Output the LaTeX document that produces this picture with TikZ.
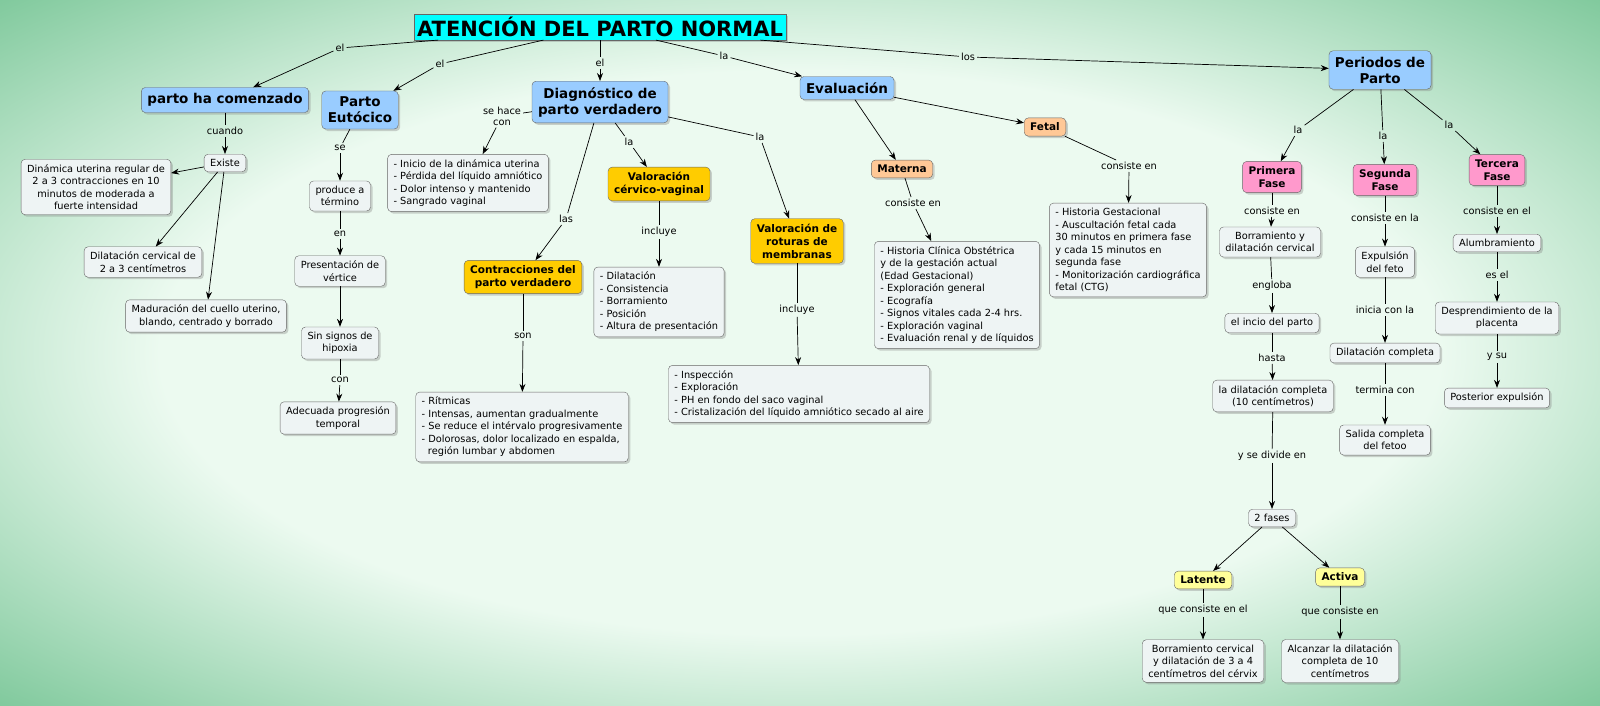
\documentclass[tikz,border=0pt]{standalone}
\usepackage{fontspec}
\setmainfont{DejaVu Sans}
\usetikzlibrary{shadows,arrows.meta}
\definecolor{bgin}{RGB}{236,250,240}
\definecolor{bgout}{RGB}{55,168,100}
\definecolor{boxfill}{RGB}{238,244,244}
\definecolor{cblue}{RGB}{153,204,255}
\definecolor{corange}{RGB}{255,204,0}
\definecolor{cpeach}{RGB}{255,200,150}
\definecolor{cpink}{RGB}{255,153,204}
\definecolor{cyellow}{RGB}{255,255,153}
\definecolor{ccyan}{RGB}{0,255,255}
\pgfdeclareradialshading{bgsh}{\pgfpoint{0}{0}}{color(0bp)=(bgin); color(20bp)=(bgin); color(46bp)=(bgout); color(80bp)=(bgout)}
\tikzset{
 box/.style={draw=gray!80!black, fill=boxfill, rounded corners=4pt, align=center, font=\fontsize{9.8}{12.5}\selectfont, inner xsep=6pt, inner ysep=5pt, drop shadow={opacity=0.35,shadow xshift=2pt,shadow yshift=-2pt}},
 lst/.style={box, align=left},
 hd/.style={box, font=\fontsize{13.5}{16}\selectfont\bfseries, fill=cblue, inner sep=6pt},
 sub/.style={box, font=\fontsize{10.5}{13}\selectfont\bfseries},
 lab/.style={font=\fontsize{9.8}{11}\selectfont, inner sep=2pt, align=center},
 arr/.style={-{Stealth[length=8pt,width=6pt]}, line width=0.7pt},
 ln/.style={line width=0.7pt},
}
\begin{document}
\begin{tikzpicture}[x=1pt,y=-1pt]
\useasboundingbox (0,0) rectangle (1600,705);
\shade[shading=bgsh] (0,0) rectangle (1600,705);

\node[box, fill=ccyan, font=\fontsize{21}{24}\selectfont\bfseries, inner sep=3pt, rounded corners=0pt] (title) at (600,27) {ATENCIÓN DEL PARTO NORMAL};

\node[hd] (phc) at (225,100) {parto ha comenzado};
\node[hd] (pe) at (360,110) {Parto\\Eutócico};
\node[hd] (dp) at (600,102) {Diagnóstico de\\parto verdadero};
\node[hd] (ev) at (847,88) {Evaluación};
\node[hd] (pp) at (1380,70) {Periodos de\\Parto};

\node[lab] (l1) at (340,48) {el};
\node[lab] (l2) at (440,64) {el};
\node[lab] (l3) at (600,63) {el};
\node[lab] (l4) at (724,56) {la};
\node[lab] (l5) at (968,57) {los};
\draw[ln] (title) -- (l1); \draw[arr] (l1) -- (phc);
\draw[ln] (title) -- (l2); \draw[arr] (l2) -- (pe);
\draw[ln] (title) -- (l3); \draw[arr] (l3) -- (dp);
\draw[ln] (title) -- (l4); \draw[arr] (l4) -- (ev);
\draw[ln] (title) -- (l5); \draw[arr] (l5) -- (pp);

% branch 1
\node[lab] (c1) at (225,131) {cuando};
\node[box] (ex) at (225,163) {Existe};
\node[box] (din) at (96,187) {Dinámica uterina regular de\\2 a 3 contracciones en 10\\minutos de moderada a\\fuerte intensidad};
\node[box] (dil) at (143,262) {Dilatación cervical de\\2 a 3 centímetros};
\node[box] (mad) at (206,316) {Maduración del cuello uterino,\\blando, centrado y borrado};
\draw[ln] (phc) -- (c1); \draw[arr] (c1) -- (ex);
\draw[arr] (ex) -- (din); \draw[arr] (ex) -- (dil); \draw[arr] (ex) -- (mad);

% branch 2
\node[lab] (s1) at (340,148) {se};
\node[box] (pat) at (340,196) {produce a\\término};
\node[lab] (e1) at (340,234) {en};
\node[box] (pv) at (340,271) {Presentación de\\vértice};
\node[box] (sh) at (340,343) {Sin signos de\\hipoxia};
\node[lab] (co1) at (340,380) {con};
\node[box] (ad) at (338,418) {Adecuada progresión\\temporal};
\draw[ln] (pe) -- (s1); \draw[arr] (s1) -- (pat);
\draw[ln] (pat) -- (e1); \draw[arr] (e1) -- (pv);
\draw[arr] (pv) -- (sh);
\draw[ln] (sh) -- (co1); \draw[arr] (co1) -- (ad);

% branch 3
\node[lab] (sh1) at (502,116) {se hace\\con};
\node[lst] (ini) at (468,183) {- Inicio de la dinámica uterina\\- Pérdida del líquido amniótico\\- Dolor intenso y mantenido\\- Sangrado vaginal};
\node[lab] (las) at (566,219) {las};
\node[sub, fill=corange] (cpv) at (523,277) {Contracciones del\\parto verdadero};
\node[lab] (son) at (523,336) {son};
\node[lst] (rit) at (522,427) {- Rítmicas\\- Intensas, aumentan gradualmente\\- Se reduce el intérvalo progresivamente\\- Dolorosas, dolor localizado en espalda,\\\ \ región lumbar y abdomen};
\node[lab] (la1) at (629,142) {la};
\node[sub, fill=corange] (vcv) at (659,184) {Valoración\\cérvico-vaginal};
\node[lab] (inc1) at (659,232) {incluye};
\node[lst] (dl) at (659,302) {- Dilatación\\- Consistencia\\- Borramiento\\- Posición\\- Altura de presentación};
\node[lab] (la2) at (760,137) {la};
\node[sub, fill=corange] (vrm) at (797,241) {Valoración de\\roturas de\\membranas};
\node[lab] (inc2) at (797,310) {incluye};
\node[lst] (insp) at (799,394) {- Inspección\\- Exploración\\- PH en fondo del saco vaginal\\- Cristalización del líquido amniótico secado al aire};
\draw[ln] (dp) -- (sh1); \draw[arr] (sh1) -- (ini);
\draw[ln] (dp) -- (las); \draw[arr] (las) -- (cpv);
\draw[ln] (cpv) -- (son); \draw[arr] (son) -- (rit);
\draw[ln] (dp) -- (la1); \draw[arr] (la1) -- (vcv);
\draw[ln] (vcv) -- (inc1); \draw[arr] (inc1) -- (dl);
\draw[ln] (dp) -- (la2); \draw[arr] (la2) -- (vrm);
\draw[ln] (vrm) -- (inc2); \draw[arr] (inc2) -- (insp);

% evaluacion
\node[sub, fill=cpeach] (mat) at (902,169) {Materna};
\node[sub, fill=cpeach] (fet) at (1045,127) {Fetal};
\node[lab] (ce1) at (913,203) {consiste en};
\node[lst] (hco) at (957,295) {- Historia Clínica Obstétrica\\y de la gestación actual\\(Edad Gestacional)\\- Exploración general\\- Ecografía\\- Signos vitales cada 2-4 hrs.\\- Exploración vaginal\\- Evaluación renal y de líquidos};
\node[lab] (ce2) at (1129,166) {consiste en};
\node[lst] (hg) at (1128,250) {- Historia Gestacional\\- Auscultación fetal cada\\30 minutos en primera fase\\y cada 15 minutos en\\segunda fase\\- Monitorización cardiográfica\\fetal (CTG)};
\draw[arr] (ev) -- (mat); \draw[arr] (ev) -- (fet);
\draw[ln] (mat) -- (ce1); \draw[arr] (ce1) -- (hco);
\draw[ln] (fet) -- (ce2); \draw[arr] (ce2) -- (hg);

% periodos
\node[lab] (pl1) at (1298,130) {la};
\node[lab] (pl2) at (1383,136) {la};
\node[lab] (pl3) at (1449,125) {la};
\node[sub, fill=cpink] (pf) at (1272,177) {Primera\\Fase};
\node[sub, fill=cpink] (sf) at (1385,180) {Segunda\\Fase};
\node[sub, fill=cpink] (tf) at (1497,170) {Tercera\\Fase};
\draw[ln] (pp) -- (pl1); \draw[arr] (pl1) -- (pf);
\draw[ln] (pp) -- (pl2); \draw[arr] (pl2) -- (sf);
\draw[ln] (pp) -- (pl3); \draw[arr] (pl3) -- (tf);

\node[lab] (pc1) at (1272,211) {consiste en};
\node[box] (bdc) at (1270,242) {Borramiento y\\dilatación cervical};
\node[lab] (eng) at (1272,286) {engloba};
\node[box] (eip) at (1272,323) {el incio del parto};
\node[lab] (has) at (1272,358) {hasta};
\node[box] (ldc) at (1273,396) {la dilatación completa\\(10 centímetros)};
\node[lab] (ysd) at (1272,456) {y se divide en};
\node[box] (f2) at (1272,518) {2 fases};
\node[sub, fill=cyellow] (lat) at (1203,580) {Latente};
\node[sub, fill=cyellow] (act) at (1340,577) {Activa};
\node[lab] (qc1) at (1203,610) {que consiste en el};
\node[lab] (qc2) at (1340,612) {que consiste en};
\node[box] (bc) at (1203,661) {Borramiento cervical\\y dilatación de 3 a 4\\centímetros del cérvix};
\node[box] (alc) at (1340,661) {Alcanzar la dilatación\\completa de 10\\centímetros};
\draw[ln] (pf) -- (pc1); \draw[arr] (pc1) -- (bdc);
\draw[ln] (bdc) -- (eng); \draw[arr] (eng) -- (eip);
\draw[ln] (eip) -- (has); \draw[arr] (has) -- (ldc);
\draw[ln] (ldc) -- (ysd); \draw[arr] (ysd) -- (f2);
\draw[arr] (f2) -- (lat); \draw[arr] (f2) -- (act);
\draw[ln] (lat) -- (qc1); \draw[arr] (qc1) -- (bc);
\draw[ln] (act) -- (qc2); \draw[arr] (qc2) -- (alc);

\node[lab] (sc1) at (1385,218) {consiste en la};
\node[box] (exf) at (1385,262) {Expulsión\\del feto};
\node[lab] (icl) at (1385,310) {inicia con la};
\node[box] (dc) at (1385,353) {Dilatación completa};
\node[lab] (tc) at (1385,390) {termina con};
\node[box] (sc) at (1385,440) {Salida completa\\del fetoo};
\draw[ln] (sf) -- (sc1); \draw[arr] (sc1) -- (exf);
\draw[ln] (exf) -- (icl); \draw[arr] (icl) -- (dc);
\draw[ln] (dc) -- (tc); \draw[arr] (tc) -- (sc);

\node[lab] (tc1) at (1497,211) {consiste en el};
\node[box] (alu) at (1497,243) {Alumbramiento};
\node[lab] (ese) at (1497,275) {es el};
\node[box] (des) at (1497,318) {Desprendimiento de la\\placenta};
\node[lab] (ysu) at (1497,357) {y su};
\node[box] (pex) at (1497,398) {Posterior expulsión};
\draw[ln] (tf) -- (tc1); \draw[arr] (tc1) -- (alu);
\draw[ln] (alu) -- (ese); \draw[arr] (ese) -- (des);
\draw[ln] (des) -- (ysu); \draw[arr] (ysu) -- (pex);
\end{tikzpicture}
\end{document}
